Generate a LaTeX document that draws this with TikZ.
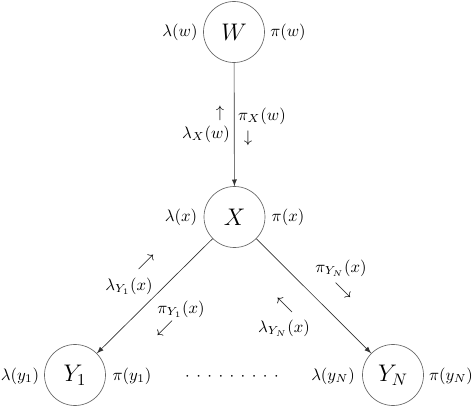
\documentclass[tikz,border=0pt]{standalone}
\usepackage{amssymb}
\usepackage{amsmath}
\usepackage{tikz}

\begin{document}
\begin{tikzpicture}[x=0.6pt,y=-0.6pt] %[pixel units]
\useasboundingbox (0,0) rectangle (474,406);

\tikzset{var/.style={circle, draw=black!60, minimum size=36.6pt, inner sep=0pt, font=\Large}}

% variables
\node[var] (W) at (234,32) {$W$};
\node[var] (X) at (234.5,217) {$X$};
\node[var] (Y1) at (75,375) {$Y_1$};
\node[var] (YN) at (393,375) {$Y_N$};
\node (dots) at (232,377) {$\cdot\,\cdot\,\cdot\,\cdot\,\cdot\,\cdot\,\cdot\,\cdot\,\cdot$};

% lambda and pi of each variable
\node (lw) at (180,32) {$\lambda(w)$};
\node (pw) at (288,32) {$\pi(w)$};
\node (lx) at (181,217) {$\lambda(x)$};
\node (px) at (288,217) {$\pi(x)$};
\node (ly1) at (20,376) {$\lambda(y_1)$};
\node (py1) at (132,376) {$\pi(y_1)$};
\node (lyN) at (333,376) {$\lambda(y_N)$};
\node (pyN) at (451,376) {$\pi(y_N)$};

% links
\draw[black!80,-latex] (W) -- (X);
\draw[black!80,-latex] (X) -- (Y1);
\draw[black!80,-latex] (X) -- (YN);

% messages
\node (uW) at (220,113) {$\uparrow$};
\node (lXw) at (206,134) {$\lambda_X(w)$};
\node (pXw) at (262,116) {$\pi_X(w)$};
\node (dW) at (248,138) {$\downarrow$};

\node (ne1) at (146,262) {$\nearrow$};
\node (lY1x) at (129,286) {$\lambda_{Y_1}(x)$};
\node (pY1x) at (181,309) {$\pi_{Y_1}(x)$};
\node (sw1) at (165,328) {$\swarrow$};

\node (pYNx) at (341,268) {$\pi_{Y_N}(x)$};
\node (seN) at (343,290) {$\searrow$};
\node (nwN) at (285,305) {$\nwarrow$};
\node (lYNx) at (284,328) {$\lambda_{Y_N}(x)$};

\end{tikzpicture}
\end{document}
